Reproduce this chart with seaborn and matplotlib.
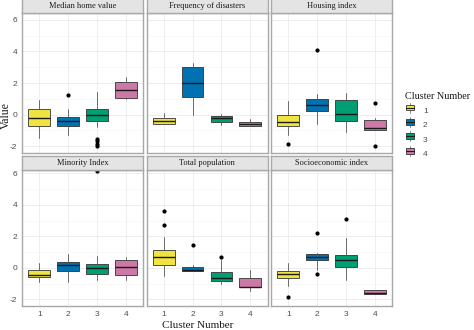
import matplotlib
matplotlib.use("Agg")
import matplotlib.pyplot as plt
from matplotlib.patches import Rectangle
from matplotlib.lines import Line2D
from matplotlib.legend_handler import HandlerBase
import seaborn as sns

# ---- data: box statistics per facet (clusters 1..4) ----
panels = ["Median home value", "Frequency of disasters", "Housing index",
          "Minority Index", "Total population", "Socioeconomic index"]
clusters = ["1", "2", "3", "4"]
colors = ["#F0E442", "#0072B2", "#009E73", "#CC79A7"]

whisker_low = [
    [-1.49, -1.30, -0.81, 0.96],
    [-0.62, 0.00, -0.66, -0.70],
    [-1.32, -0.59, -1.08, -0.98],
    [-0.91, -0.91, -0.80, -0.76],
    [-0.49, -0.21, -1.04, -1.46],
    [-1.14, -0.13, -0.80, -1.65],
]
q1 = [
    [-0.74, -0.70, -0.40, 1.04],
    [-0.62, 1.10, -0.49, -0.70],
    [-0.74, 0.25, -0.38, -0.98],
    [-0.59, -0.23, -0.42, -0.44],
    [0.17, -0.21, -0.85, -1.23],
    [-0.63, 0.47, 0.06, -1.65],
]
median = [
    [-0.23, -0.40, -0.04, 1.55],
    [-0.40, 1.97, -0.25, -0.57],
    [-0.49, 0.59, 0.06, -0.85],
    [-0.47, 0.15, 0.00, 0.06],
    [0.68, -0.13, -0.63, -1.19],
    [-0.42, 0.68, 0.47, -1.57],
]
q3 = [
    [0.34, -0.15, 0.36, 2.04],
    [-0.19, 3.04, -0.08, -0.47],
    [-0.06, 1.00, 0.93, -0.34],
    [-0.15, 0.36, 0.23, 0.53],
    [1.14, 0.04, -0.28, -0.66],
    [-0.19, 0.91, 0.83, -1.42],
]
whisker_high = [
    [0.91, 0.32, 1.42, 2.40],
    [0.11, 3.29, 0.04, -0.30],
    [0.89, 1.32, 1.34, -0.19],
    [0.30, 0.89, 0.74, 0.72],
    [1.99, 0.15, 0.47, -0.13],
    [0.32, 0.97, 1.88, -1.38],
]
outliers = [
    [[], [1.27], [-1.53, -1.68, -1.85, -2.02], []],
    [[], [], [], []],
    [[-1.85], [4.08], [], [0.76, -2.00]],
    [[], [], [6.16], []],
    [[2.71, 3.64], [1.44], [0.68], []],
    [[-1.82], [2.24, -0.38], [3.13], []],
]

y_ticks = [-2, 0, 2, 4, 6]
x_label = "Cluster Number"
y_label = "Value"
legend_title = "Cluster Number"

# ---- styling ----
sns.set_theme(style="whitegrid")
SERIF = ["Liberation Serif", "DejaVu Serif"]
SANS = ["Liberation Sans", "DejaVu Sans"]
BORDER = "#A8A8A8"
STRIP = "#E4E4E4"
TICK_COL = "#4D4D4D"

W, H = 474, 330
fig = plt.figure(figsize=(W / 100, H / 100), dpi=100)

col_x = [(22, 143), (146.5, 267.5), (271, 392)]
row_y = [(13, 153, (-2.44, 6.44)), (170, 306, (-2.42, 6.21))]
strip_h = 14


def px_rect(x0, x1, y0, y1):
    return [x0 / W, 1 - y1 / H, (x1 - x0) / W, (y1 - y0) / H]


for i, name in enumerate(panels):
    r, c = divmod(i, 3)
    x0, x1 = col_x[c]
    y0, y1, ylim = row_y[r]
    ax = fig.add_axes(px_rect(x0, x1, y0, y1))
    ax.set_facecolor("white")

    stats = []
    for k in range(4):
        stats.append(dict(med=median[i][k], q1=q1[i][k], q3=q3[i][k],
                          whislo=whisker_low[i][k], whishi=whisker_high[i][k],
                          fliers=outliers[i][k], label=clusters[k]))
    bp = ax.bxp(stats, positions=[1, 2, 3, 4], widths=0.75, patch_artist=True,
                showcaps=False,
                boxprops=dict(edgecolor="#333333", linewidth=0.6),
                medianprops=dict(color="#1a1a1a", linewidth=1.0),
                whiskerprops=dict(color="#555555", linewidth=0.6),
                flierprops=dict(marker="o", markersize=2.0,
                                markerfacecolor="black", markeredgecolor="black"))
    for patch, col in zip(bp["boxes"], colors):
        patch.set_facecolor(col)

    ax.set_xlim(0.4, 4.6)
    ax.set_ylim(*ylim)
    ax.set_yticks(y_ticks)
    ax.set_yticks([-1, 1, 3, 5], minor=True)
    ax.set_xticks([1, 2, 3, 4])
    ax.grid(True, which="major", color="#EBEBEB", linewidth=0.6)
    ax.grid(True, which="minor", axis="y", color="#F4F4F4", linewidth=0.4)
    ax.set_axisbelow(True)
    for sp in ax.spines.values():
        sp.set_visible(True)
        sp.set_color(BORDER)
        sp.set_linewidth(1.0)

    ax.tick_params(axis="both", which="major", length=2, width=0.5,
                   color=TICK_COL, labelsize=6, labelcolor=TICK_COL, pad=1.5)
    ax.tick_params(axis="both", which="minor", length=0)
    if c == 0:
        ax.set_yticklabels([str(t) for t in y_ticks], fontfamily=SANS)
    else:
        ax.tick_params(axis="y", left=False, labelleft=False)
    if r == 1:
        ax.set_xticklabels(clusters, fontfamily=SANS)
    else:
        ax.tick_params(axis="x", bottom=False, labelbottom=False)

    # facet strip
    sax = fig.add_axes(px_rect(x0, x1, y0 - strip_h, y0 - 0.5))
    sax.set_facecolor(STRIP)
    sax.set_xticks([])
    sax.set_yticks([])
    sax.grid(False)
    for sp in sax.spines.values():
        sp.set_visible(True)
        sp.set_color(BORDER)
        sp.set_linewidth(1.0)
    sax.text(0.5, 0.45, name, ha="center", va="center", fontsize=6,
             fontfamily=SERIF, color="#1a1a1a", transform=sax.transAxes)

# axis titles
fig.text(198 / W, 1 - 325 / H, x_label, ha="center", va="center",
         fontsize=8, fontfamily=SERIF, color="#1a1a1a")
fig.text(6 / W, 1 - 116 / H, y_label, ha="center", va="center", rotation=90,
         fontsize=8.5, fontfamily=SERIF, color="#1a1a1a")


# legend keys drawn as small boxplot glyphs
class BoxKey(HandlerBase):
    def create_artists(self, legend, orig_handle, xd, yd, width, height,
                       fontsize, trans):
        col = orig_handle.get_facecolor()
        bx0, bw = xd + width * 0.1, width * 0.8
        by0, bh = yd + height * 0.15, height * 0.7
        rect = Rectangle((bx0, by0), bw, bh, facecolor=col,
                         edgecolor="#333333", linewidth=0.6, transform=trans)
        cx = bx0 + bw / 2
        cy = by0 + bh / 2
        med = Line2D([bx0, bx0 + bw], [cy, cy], color="#1a1a1a",
                     linewidth=0.8, transform=trans)
        w1 = Line2D([cx, cx], [yd - height * 0.1, by0], color="#555555",
                    linewidth=0.5, transform=trans)
        w2 = Line2D([cx, cx], [by0 + bh, yd + height * 1.1], color="#555555",
                    linewidth=0.5, transform=trans)
        return [w1, w2, rect, med]


handles = [Rectangle((0, 0), 1, 1, facecolor=col) for col in colors]
leg = fig.legend(handles, clusters, title=legend_title,
                 handler_map={Rectangle: BoxKey()},
                 loc="upper left", bbox_to_anchor=(403 / W, 1 - 90 / H),
                 frameon=False, handlelength=1.3, handleheight=1.15,
                 labelspacing=0.65, handletextpad=0.9, borderpad=0.2,
                 borderaxespad=0.0,
                 prop=dict(family=SANS, size=6))
leg.get_title().set_fontfamily(SERIF)
leg.get_title().set_fontsize(7.3)
leg.get_title().set_color("#1a1a1a")
leg._legend_box.align = "left"
for t in leg.get_texts():
    t.set_color(TICK_COL)

fig.savefig("out.png", dpi=100, facecolor="white")
